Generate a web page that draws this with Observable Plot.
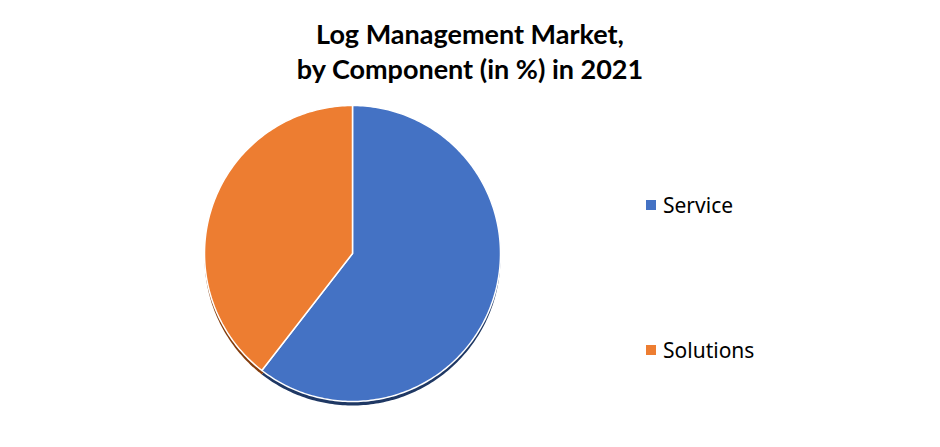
<!DOCTYPE html>
<html>
<head>
<meta charset="utf-8">
<script src="https://cdn.jsdelivr.net/npm/d3@7"></script>
<script src="https://cdn.jsdelivr.net/npm/@observablehq/plot@0.6"></script>
<style>
  html, body { margin: 0; padding: 0; background: #fff; }
  #wrap { position: relative; width: 940px; height: 447px; overflow: hidden; }
  #title { height: 92px; box-sizing: border-box; padding-top: 16px; text-align: center;
           font-family: Lato, "Open Sans", sans-serif; font-weight: 700; font-size: 27px;
           line-height: 35px; color: #000; }
  .leg { position: absolute; display: flex; align-items: center; height: 26px;
         font-family: "Noto Sans", "Open Sans", sans-serif; font-size: 21px; color: #000; }
  .sw { width: 10px; height: 10px; margin-right: 7px; }
</style>
</head>
<body>
<div id="wrap">
  <div id="title">Log Management Market,<br>by Component (in %) in 2021</div>
  <div id="chart"></div>
  <div id="legend"></div>
</div>
<script>
const categories = ["Service", "Solutions"];
const shares = [60.5, 39.5];
const colors = ["#4472C4", "#ED7D31"];
const shadowColors = ["#1f3864", "#843c0c"];

const slices = d3.pie().sort(null).value(d => d.value)(
  categories.map((name, i) => ({name, value: shares[i]}))
);

// polygon outline of each slice, derived from the pie angles
const outline = [];
for (const s of slices) {
  const n = Math.max(2, Math.ceil((s.endAngle - s.startAngle) / (Math.PI / 180)));
  outline.push({name: s.data.name, x: 0, y: 0});
  for (let k = 0; k <= n; k++) {
    const a = s.startAngle + (s.endAngle - s.startAngle) * k / n;
    outline.push({name: s.data.name, x: Math.sin(a), y: Math.cos(a)});
  }
  outline.push({name: s.data.name, x: 0, y: 0});
}

const cx = 352, cy = 161, r = 148;
const plot = Plot.plot({
  width: 940,
  height: 355,
  margin: 0,
  x: {domain: [-1, 1], range: [cx - r, cx + r], axis: null},
  y: {domain: [-1, 1], range: [cy + r, cy - r], axis: null},
  color: {domain: categories, range: colors},
  marks: [
    Plot.line(outline, {x: "x", y: "y", z: "name", dy: 4,
      fill: d => shadowColors[categories.indexOf(d.name)], stroke: "none",
      style: {filter: "blur(1.2px)"}}),
    Plot.line(outline, {x: "x", y: "y", z: "name", fill: "name",
      stroke: "white", strokeWidth: 1.5, strokeLinejoin: "round"})
  ]
});
document.getElementById("chart").appendChild(plot);

const legendTops = [192, 337];
const legend = document.getElementById("legend");
categories.forEach((name, i) => {
  const el = document.createElement("div");
  el.className = "leg";
  el.style.left = "646px";
  el.style.top = legendTops[i] + "px";
  el.innerHTML = `<span class="sw" style="background:${colors[i]}"></span>${name}`;
  legend.appendChild(el);
});
</script>
</body>
</html>
